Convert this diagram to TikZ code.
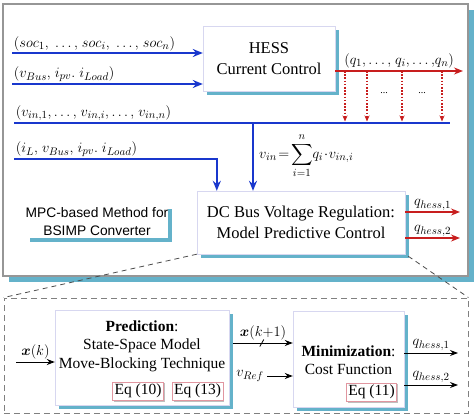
\documentclass[tikz,border=0pt]{standalone}
\usepackage{amsmath, amssymb}
\usepackage{fontspec}
\setmainfont{Liberation Serif}
\newfontfamily\arial{Liberation Sans}
\usepackage{tikz}
\usetikzlibrary{shapes}
\usetikzlibrary{arrows.meta}
\usetikzlibrary{positioning}
\usetikzlibrary{shadows}
\definecolor{bleu}{RGB}{25,55,205}
\definecolor{rouge}{RGB}{200,30,30}
\definecolor{sarcelle}{RGB}{100,178,202}
\definecolor{gris}{RGB}{150,150,150}
\definecolor{lavande}{RGB}{215,215,240}
\definecolor{rose}{RGB}{225,150,160}
\tikzstyle{cadre}=[rectangle,draw=gris,line width=1.2pt,fill=white,inner sep=0pt,
drop shadow={shadow xshift=6pt,shadow yshift=-6pt,fill=sarcelle,opacity=1}]
\tikzstyle{loupe}=[rectangle,draw=gray,line width=0.9pt,dash pattern=on 6pt off 4pt,inner sep=0pt]
\tikzstyle{bloc}=[rectangle,draw=lavande,fill=white,inner sep=0pt,align=center,
drop shadow={shadow xshift=4pt,shadow yshift=-4pt,fill=sarcelle,opacity=1}]
\tikzstyle{eqn}=[rectangle,draw=rose,fill=white,inner sep=2pt,
drop shadow={shadow xshift=1.5pt,shadow yshift=-1.5pt,fill=gray!50,opacity=1}]
\tikzstyle{bas}=[font=\fontsize{15.5}{18.5}\selectfont]
\tikzstyle{etiq}=[font=\fontsize{15}{18}\selectfont,inner sep=1pt]
\tikzstyle{suite}=[->,>={Stealth[length=10pt,width=8pt]},draw=bleu,line width=1.8pt]
\tikzstyle{sortie}=[->,>={Stealth[length=9pt,width=7pt]},draw=rouge,line width=1.4pt]
\tikzstyle{pointille}=[->,>={Stealth[length=6pt,width=5pt]},draw=rouge,dash pattern=on 1.6pt off 1.6pt,line width=1.3pt,shorten >=1.5pt]
\tikzstyle{fleche}=[->,>={Stealth[length=8pt,width=6pt]},draw=black,line width=1pt]
\tikzstyle{zoomtrait}=[draw=black!70,dash pattern=on 5pt off 4pt,line width=0.8pt]
\begin{document}
\begin{tikzpicture}[x=1pt,y=-1pt,font=\fontsize{16.5}{21}\selectfont]
\useasboundingbox (0,0) rectangle (474,420);
\node[cadre,minimum width=465pt,minimum height=272pt] (cadre) at (235.5,140) {};
\node[loupe,minimum width=464pt,minimum height=115pt] (loupe) at (236,355.5) {};
%Partie haute
\node[bloc,minimum width=132pt,minimum height=65pt] (hess) at (269,58.5) {HESS\\Current Control};
\node[bloc,minimum width=208pt,minimum height=63pt] (dc) at (301,222.5) {DC Bus Voltage Regulation:\\Model Predictive Control};
\node[bloc,draw=none,minimum width=142pt,minimum height=33pt,font=\arial\fontsize{13.8}{18}\selectfont] (mpc) at (97,221.5) {MPC-based Method for\\BSIMP Converter};
\coordinate (e1) at (12,53);
\coordinate (e2) at (12,84);
\coordinate (bus) at (14,123);
\coordinate (busfin) at (450,123);
\coordinate (e4) at (14,159);
\coordinate (b1) at (253,123);
\coordinate (q) at (463,71);
\coordinate (s1) at (460,212);
\coordinate (s2) at (460,238);
\draw[suite] (e1) node[above right,etiq] (l1) {$(soc_1{,}\;\ldots{,}\;soc_i{,}\;\ldots{,}\;soc_n)$} -- (e1 -| hess.west);
\draw[suite] (e2) node[above right,etiq] (l2) {$(v_{Bus}{,}\;i_{pv}.\;i_{Load})$} -- (e2 -| hess.west);
\draw[draw=bleu,line width=1.8pt] (bus) node[above right,etiq] (l3) {$(v_{in,1}{,}\ldots{,}\;v_{in,i}{,}\ldots{,}\;v_{in,n})$} -- (busfin);
\draw[suite] (e4) node[above right,etiq] (l4) {$(i_L{,}\;v_{Bus}{,}\;i_{pv}.\;i_{Load})$} -| ([xshift=20pt]dc.north west);
\draw[suite] (b1) -- (b1 |- dc.north);
\node[anchor=west,etiq] (vin) at (258,156) {$\displaystyle v_{in}\!=\!\sum_{i=1}^{n}\!q_i\!\cdot\!v_{in,i}$};
\draw[sortie] (q -| hess.east) -- (q) node[midway,above,etiq,inner sep=2pt] (lq) {$(q_1{,}\ldots{,}\;q_i{,}\ldots{,}q_n)$};
\foreach \x in {345,367,402,442}{
  \coordinate (h\x) at (\x,71);
  \draw[pointille] (h\x) -- (h\x |- bus);
}
\node[font=\fontsize{10}{12}\selectfont] (pt1) at (384,93) {...};
\node[font=\fontsize{10}{12}\selectfont] (pt2) at (422,93) {...};
\draw[sortie] (s1 -| dc.east) -- (s1) node[midway,above,etiq] (ls1) {$q_{hess,1}$};
\draw[sortie] (s2 -| dc.east) -- (s2) node[midway,above,etiq] (ls2) {$q_{hess,2}$};
%Zoom
\draw[zoomtrait] (dc.south west) -- (loupe.north west);
\draw[zoomtrait] ([xshift=3pt,yshift=-2pt]dc.south east) -- (loupe.north east);
%Partie basse
\node[bloc,minimum width=174pt,minimum height=95pt] (pred) at (142,357.5) {};
\node[bas,align=center] (predtxt) at (142,346) {\textbf{Prediction}:\\State-Space Model\\Move-Blocking Technique};
\node[eqn,bas] (eq10) at (138,391) {Eq (10)};
\node[eqn,bas] (eq13) at (197.5,391) {Eq (13)};
\node[bloc,minimum width=111pt,minimum height=96pt] (mini) at (348.5,359) {};
\node[bas,align=center] (minitxt) at (348.5,360) {\textbf{Minimization}:\\Cost Function};
\node[eqn,bas] (eq11) at (371.5,392) {Eq (11)};
\coordinate (xk) at (16,362);
\coordinate (xk1) at ([xshift=4pt,yshift=14.5pt]pred.east);
\coordinate (o1) at (458,353);
\coordinate (o2) at (458,385);
\draw[fleche] (xk) -- (xk -| pred.west) node[midway,above,bas,inner sep=2pt] (lxk) {$\boldsymbol{x}(k)$};
\draw[fleche] (xk1) -- (xk1 -| mini.west) node[midway,above,bas,inner sep=2pt] (lxk1) {$\boldsymbol{x}(k{+}1)$} coordinate[pos=0.48] (tick);
\draw[line width=0.8pt] ([xshift=-2pt,yshift=-3.5pt]tick) -- ([xshift=2pt,yshift=3.5pt]tick);
\node[bas] (vref) at (250,376) {$v_{Ref}$};
\draw[fleche] (vref) -- (vref -| mini.west);
\draw[fleche] (o1 -| mini.east) -- (o1) node[midway,above,etiq,inner sep=2pt] (lo1) {$q_{hess,1}$};
\draw[fleche] (o2 -| mini.east) -- (o2) node[midway,above,etiq,inner sep=2pt] (lo2) {$q_{hess,2}$};
\end{tikzpicture}
\end{document}
